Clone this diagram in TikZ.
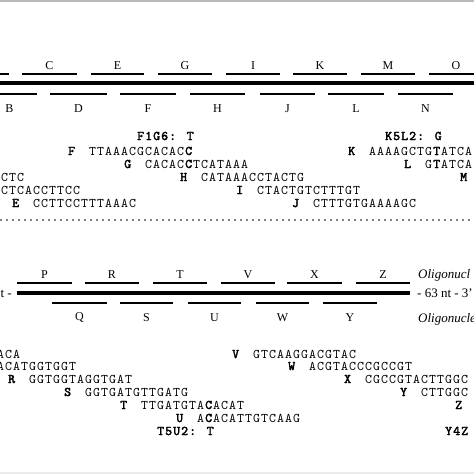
\documentclass[tikz,border=0pt]{standalone}
\usepackage{fontspec}
\setmainfont{Liberation Serif}
\newfontfamily\seqfam{lmmono10-regular}[Extension=.otf, LetterSpace=8.1, BoldFont=lmmono10-regular, BoldFeatures={FakeBold=2.5}]
\usepackage{tikz}
\definecolor{bandgrey}{RGB}{185,185,185}
\definecolor{bandlight}{RGB}{235,235,235}

\begin{document}
\begin{tikzpicture}[x=1pt, y=-1pt,
    strand/.style={line width=3.4pt, black},
    oligo/.style={line width=1.8pt, black},
    lab/.style={inner sep=0pt, font=\fontsize{12}{14}\selectfont},
    labup/.style={lab, yshift=8.6pt},
    labdn/.style={lab, yshift=-14.6pt},
    seq/.style={inner sep=0pt, anchor=base west, font=\seqfam\fontsize{13.2}{15}\selectfont},
    tag/.style={seq, font=\seqfam\bfseries\fontsize{13.2}{15}\selectfont},
    note/.style={inner sep=0pt, anchor=base west, font=\fontsize{13}{16}\selectfont}
]
\useasboundingbox (0,0) rectangle (474,474);
\clip (0,0) rectangle (474,474);
\fill[bandgrey] (0,0) rectangle (474,1.8);
\fill[bandlight] (0,471.8) rectangle (474,474);

% upper panel: strand and oligos
\draw[strand] (-5,83) -- (479,83);
\draw[oligo] (-46,74.3) -- (9,74.3);
\draw[oligo] (22,74.3) -- node[labup] (oC) {C} (77,74.3);
\draw[oligo] (91,74.3) -- node[labup] (oE) {E} (144,74.3);
\draw[oligo] (158,74.3) -- node[labup] (oG) {G} (212,74.3);
\draw[oligo] (226,74.3) -- node[labup] (oI) {I} (280,74.3);
\draw[oligo] (293,74.3) -- node[labup] (oK) {K} (347,74.3);
\draw[oligo] (361,74.3) -- node[labup] (oM) {M} (415,74.3);
\draw[oligo] (429,74.3) -- node[labup] (oO) {O} (483,74.3);
\draw[oligo] (-18,94.2) -- node[labdn] (oB) {B} (37,94.2);
\draw[oligo] (50,94.2) -- node[labdn] (oD) {D} (107,94.2);
\draw[oligo] (120,94.2) -- node[labdn] (oF) {F} (176,94.2);
\draw[oligo] (190,94.2) -- node[labdn] (oH) {H} (245,94.2);
\draw[oligo] (260,94.2) -- node[labdn] (oJ) {J} (315,94.2);
\draw[oligo] (328,94.2) -- node[labdn] (oL) {L} (384,94.2);
\draw[oligo] (398,94.2) -- node[labdn] (oN) {N} (453,94.2);

% upper panel: sequences
\node[tag] (mFG) at (137,140) {F1G6: T};
\node[tag] (mKL) at (385,140) {K5L2: G};
\node[tag] (tF) at (68,155) {F};
\node[seq] (sF) at (89,155) {TTAAACGCACAC\textbf{C}};
\node[tag] (tK) at (348,155) {K};
\node[seq] (sK) at (369,155) {AAAAGCTG\textbf{T}ATCA};
\node[tag] (tG) at (124,168) {G};
\node[seq] (sG) at (145,168) {CACAC\textbf{C}TCATAAA};
\node[tag] (tL) at (404,168) {L};
\node[seq] (sL) at (425,168) {G\textbf{T}ATCA};
\node[seq] (sC) at (1,181) {CTC};
\node[tag] (tH) at (180,181) {H};
\node[seq] (sH) at (201,181) {CATAAACCTACTG};
\node[tag] (tM) at (460,181) {M};
\node[seq] (sD) at (1,194) {CTCACCTTCC};
\node[tag] (tI) at (236,194) {I};
\node[seq] (sI) at (257,194) {CTACTGTCTTTGT};
\node[tag] (tE) at (12,207) {E};
\node[seq] (sE) at (33,207) {CCTTCCTTTAAAC};
\node[tag] (tJ) at (292,207) {J};
\node[seq] (sJ) at (313,207) {CTTTGTGAAAAGC};

\draw[line width=1.7pt, line cap=round, dash pattern=on 0pt off 6pt] (1,220) -- (474,220);

% lower panel: strand and oligos
\node[note, anchor=base east] (n5) at (12,297) {t -};
\draw[strand] (17,293) -- (410,293);
\node[note] (n3) at (417,297) {- 63 nt - 3'};
\node[note, font=\itshape\fontsize{13}{16}\selectfont] (ol1) at (418,278) {Oligonucl};
\node[note, font=\itshape\fontsize{13}{16}\selectfont] (ol2) at (418,322) {Oligonucle};
\draw[oligo] (17,283) -- node[labup] (oP) {P} (72,283);
\draw[oligo] (85,283) -- node[labup] (oR) {R} (139,283);
\draw[oligo] (153,283) -- node[labup] (oT) {T} (207,283);
\draw[oligo] (221,283) -- node[labup] (oV) {V} (275,283);
\draw[oligo] (287,283) -- node[labup] (oX) {X} (342,283);
\draw[oligo] (356,283) -- node[labup] (oZ) {Z} (410,283);
\draw[oligo] (52,303) -- node[labdn] (oQ) {Q} (107,303);
\draw[oligo] (120,303) -- node[labdn] (oS) {S} (173,303);
\draw[oligo] (188,303) -- node[labdn] (oU) {U} (241,303);
\draw[oligo] (256,303) -- node[labdn] (oW) {W} (309,303);
\draw[oligo] (323,303) -- node[labdn] (oY) {Y} (377,303);

% lower panel: sequences
\node[seq] (sP) at (-3,358) {ACA};
\node[tag] (tV) at (232,358) {V};
\node[seq] (sV) at (253,358) {GTCAAGGACGTAC};
\node[seq] (sQ) at (-3,370) {ACATGGTGGT};
\node[tag] (tW) at (288,370) {W};
\node[seq] (sW) at (309,370) {ACGTACCCGCCGT};
\node[tag] (tR) at (8,383) {R};
\node[seq] (sR) at (29,383) {GGTGGTAGGTGAT};
\node[tag] (tX) at (344,383) {X};
\node[seq] (sX) at (365,383) {CGCCGTACTTGGC};
\node[tag] (tS) at (64,396) {S};
\node[seq] (sS) at (85,396) {GGTGATGTTGATG};
\node[tag] (tY) at (400,396) {Y};
\node[seq] (sY) at (421,396) {CTTGGC};
\node[tag] (tT) at (120,409) {T};
\node[seq] (sT) at (141,409) {TTGATGTA\textbf{C}ACAT};
\node[tag] (tZ) at (455,409) {Z};
\node[tag] (tU) at (176,422) {U};
\node[seq] (sU) at (197,422) {A\textbf{C}ACATTGTCAAG};
\node[tag] (mTU) at (157,435) {T5U2: T};
\node[tag] (mYZ) at (445,435) {Y4Z};
\end{tikzpicture}
\end{document}
